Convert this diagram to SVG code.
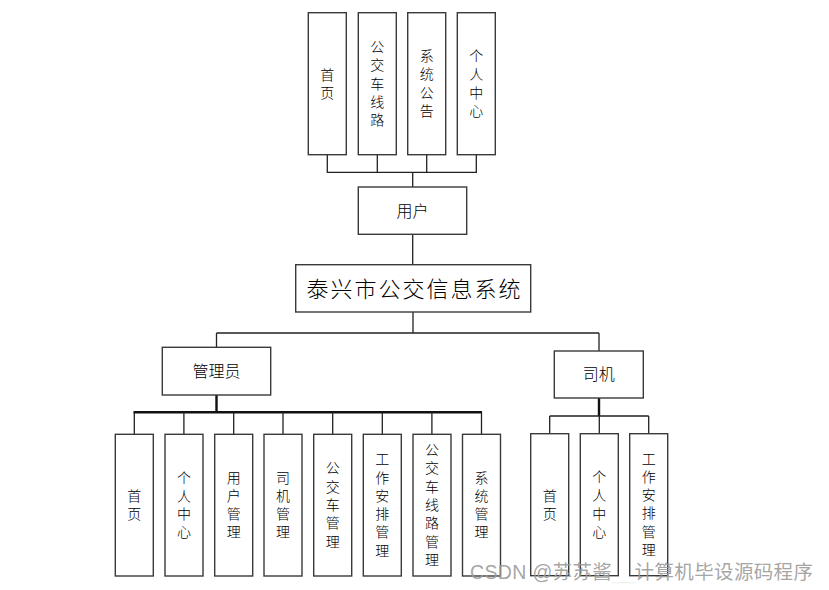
<svg xmlns="http://www.w3.org/2000/svg" width="829" height="590" viewBox="0 0 829 590">
<style>
.box{fill:#fff;stroke:#3a3a3a;stroke-width:1.4}
.t{font-family:"Noto Sans CJK SC","Noto Sans",sans-serif;fill:#000;text-anchor:middle;font-weight:300}
.v{font-size:14px}
.ln{stroke:#222;stroke-width:1.3;fill:none}
.thick{stroke:#111;stroke-width:2.4;fill:none}
</style>
<rect width="829" height="590" fill="#fff"/>
<g id="connectors">
<path class="ln" d="M327.3,154.7V172.3M377.3,154.7V172.3M426.7,154.7V172.3M476.3,154.7V172.3M326.7,172.3H477M412.7,172.3V187"/>
<path class="ln" d="M412.7,234.3V264.7M413,312V333M216.5,333H599M216.5,333V347.3M599,333V351"/>
<path class="thick" d="M216.5,395V412.3M133.5,412.3H482"/>
<path class="ln" d="M134.3,412.3V434.3M183.9,412.3V434.3M233.7,412.3V434.3M283,412.3V434.3M332.7,412.3V434.3M382.3,412.3V434.3M431.9,412.3V434.3M481.5,412.3V434.3"/>
<path class="thick" d="M599,398V416"/>
<path class="ln" d="M549.7,416H648.7M549.7,416V433.7M599.3,416V433.7M648.7,416V433.7"/>
</g>
<g id="top1"><rect class="box" x="308.3" y="12.7" width="38" height="142"/><text class="t v"><tspan x="327.3" y="79.5">首</tspan><tspan x="327.3" dy="18.3">页</tspan></text></g>
<g id="top2"><rect class="box" x="358.3" y="12.7" width="38" height="142"/><text class="t v"><tspan x="377.3" y="52">公</tspan><tspan x="377.3" dy="18.3">交</tspan><tspan x="377.3" dy="18.3">车</tspan><tspan x="377.3" dy="18.3">线</tspan><tspan x="377.3" dy="18.3">路</tspan></text></g>
<g id="top3"><rect class="box" x="407.7" y="12.7" width="38" height="142"/><text class="t v"><tspan x="426.7" y="61">系</tspan><tspan x="426.7" dy="18.3">统</tspan><tspan x="426.7" dy="18.3">公</tspan><tspan x="426.7" dy="18.3">告</tspan></text></g>
<g id="top4"><rect class="box" x="457.3" y="12.7" width="38" height="142"/><text class="t v"><tspan x="476.3" y="61">个</tspan><tspan x="476.3" dy="18.3">人</tspan><tspan x="476.3" dy="18.3">中</tspan><tspan x="476.3" dy="18.3">心</tspan></text></g>
<g id="user"><rect class="box" x="358.3" y="187" width="108.4" height="47.3"/><text class="t" x="412.5" y="216.5" font-size="16">用户</text></g>
<g id="main"><rect class="box" x="295.7" y="264.7" width="235" height="47.3"/><text class="t" x="414.5" y="296.5" font-size="22" letter-spacing="2">泰兴市公交信息系统</text></g>
<g id="admin"><rect class="box" x="162.3" y="347.3" width="108.4" height="47.7"/><text class="t" x="216.5" y="376.5" font-size="16">管理员</text></g>
<g id="driver"><rect class="box" x="554.3" y="351" width="89" height="47"/><text class="t" x="598.8" y="380" font-size="16">司机</text></g>
<g id="a1"><rect class="box" x="115.3" y="434.3" width="38" height="141.7"/><text class="t v"><tspan x="134.3" y="501">首</tspan><tspan x="134.3" dy="18.3">页</tspan></text></g>
<g id="a2"><rect class="box" x="165" y="434.3" width="38" height="141.7"/><text class="t v"><tspan x="183.9" y="482.5">个</tspan><tspan x="183.9" dy="18.3">人</tspan><tspan x="183.9" dy="18.3">中</tspan><tspan x="183.9" dy="18.3">心</tspan></text></g>
<g id="a3"><rect class="box" x="214.7" y="434.3" width="38" height="141.7"/><text class="t v"><tspan x="233.7" y="482.5">用</tspan><tspan x="233.7" dy="18.3">户</tspan><tspan x="233.7" dy="18.3">管</tspan><tspan x="233.7" dy="18.3">理</tspan></text></g>
<g id="a4"><rect class="box" x="264" y="434.3" width="38" height="141.7"/><text class="t v"><tspan x="283" y="482.5">司</tspan><tspan x="283" dy="18.3">机</tspan><tspan x="283" dy="18.3">管</tspan><tspan x="283" dy="18.3">理</tspan></text></g>
<g id="a5"><rect class="box" x="313.7" y="434.3" width="38" height="141.7"/><text class="t v"><tspan x="332.7" y="473.3">公</tspan><tspan x="332.7" dy="18.3">交</tspan><tspan x="332.7" dy="18.3">车</tspan><tspan x="332.7" dy="18.3">管</tspan><tspan x="332.7" dy="18.3">理</tspan></text></g>
<g id="a6"><rect class="box" x="363.3" y="434.3" width="38" height="141.7"/><text class="t v"><tspan x="382.3" y="464.2">工</tspan><tspan x="382.3" dy="18.3">作</tspan><tspan x="382.3" dy="18.3">安</tspan><tspan x="382.3" dy="18.3">排</tspan><tspan x="382.3" dy="18.3">管</tspan><tspan x="382.3" dy="18.3">理</tspan></text></g>
<g id="a7"><rect class="box" x="413" y="434.3" width="38" height="141.7"/><text class="t v"><tspan x="431.9" y="455">公</tspan><tspan x="431.9" dy="18.3">交</tspan><tspan x="431.9" dy="18.3">车</tspan><tspan x="431.9" dy="18.3">线</tspan><tspan x="431.9" dy="18.3">路</tspan><tspan x="431.9" dy="18.3">管</tspan><tspan x="431.9" dy="18.3">理</tspan></text></g>
<g id="a8"><rect class="box" x="462.5" y="434.3" width="38" height="141.7"/><text class="t v"><tspan x="481.5" y="482.5">系</tspan><tspan x="481.5" dy="18.3">统</tspan><tspan x="481.5" dy="18.3">管</tspan><tspan x="481.5" dy="18.3">理</tspan></text></g>
<g id="d1"><rect class="box" x="530.7" y="433.7" width="38" height="142"/><text class="t v"><tspan x="549.7" y="500.5">首</tspan><tspan x="549.7" dy="18.3">页</tspan></text></g>
<g id="d2"><rect class="box" x="580.3" y="433.7" width="38" height="142"/><text class="t v"><tspan x="599.3" y="482">个</tspan><tspan x="599.3" dy="18.3">人</tspan><tspan x="599.3" dy="18.3">中</tspan><tspan x="599.3" dy="18.3">心</tspan></text></g>
<g id="d3"><rect class="box" x="629.7" y="433.7" width="38" height="142"/><text class="t v"><tspan x="648.7" y="463.5">工</tspan><tspan x="648.7" dy="18.3">作</tspan><tspan x="648.7" dy="18.3">安</tspan><tspan x="648.7" dy="18.3">排</tspan><tspan x="648.7" dy="18.3">管</tspan><tspan x="648.7" dy="18.3">理</tspan></text></g>
<text x="470" y="579" font-family="'Liberation Sans','Noto Sans CJK SC',sans-serif" font-size="19.5" textLength="343" lengthAdjust="spacing" fill="#9a9a9a" fill-opacity="0.9">CSDN @苏苏酱<tspan fill="#eeeeee">__</tspan>计算机毕设源码程序</text>
</svg>
